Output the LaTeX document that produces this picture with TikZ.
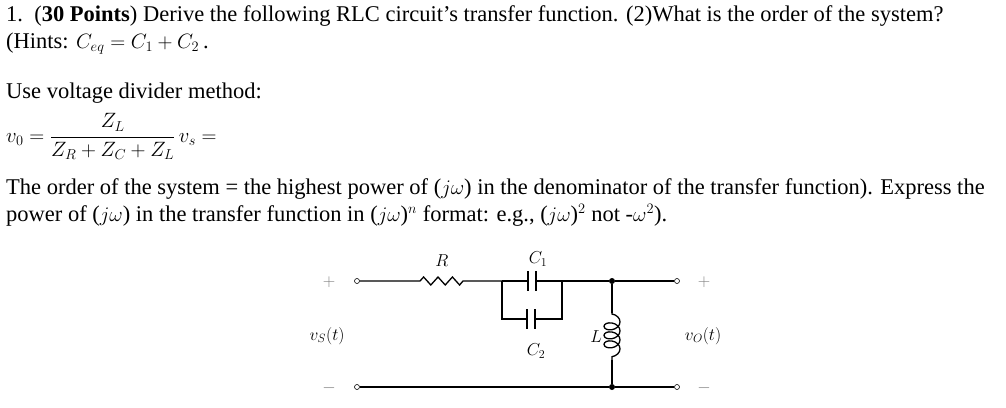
\documentclass[tikz,border=0pt]{standalone}
\usepackage{fontspec}
\setmainfont{Liberation Serif}
\usetikzlibrary{decorations.pathmorphing}
\begin{document}
\begin{tikzpicture}[x=1pt,y=-1pt,
  txt/.style={anchor=base west,inner sep=0pt,font=\fontsize{22.5}{25}\selectfont},
  wire/.style={line width=1.3pt},
  term/.style={circle,draw,fill=white,inner sep=0pt,minimum size=5pt,line width=0.6pt},
  dot/.style={circle,fill,inner sep=0pt,minimum size=6pt},
  lbl/.style={inner sep=0pt,font=\fontsize{18}{20}\selectfont},
  sgn/.style={inner sep=0pt,font=\fontsize{18}{20}\selectfont,text=gray}]
\useasboundingbox (0,0) rectangle (1006,407);
\node[txt] (l1) at (6,21) {1.\ \ (\textbf{30 Points}) Derive the following RLC circuit’s transfer function. (2)What is the order of the system?};
\node[txt] (l2) at (6,48) {(Hints: $C_{eq}=C_1+C_2$\,.};
\node[txt] (l3) at (6,98) {Use voltage divider method:};
\node[txt] (l4) at (6,142) {$\displaystyle v_0=\frac{Z_L}{Z_R+Z_C+Z_L}\,v_s=$};
\node[txt] (l5) at (6,194) {The order of the system = the highest power of ($j\omega$) in the denominator of the transfer function). Express the};
\node[txt] (l6) at (6,221) {power of ($j\omega$) in the transfer function in ($j\omega$)$^n$ format: e.g., ($j\omega$)$^2$ not -$\omega^2$).};
% circuit
\node[term] (a) at (357,281) {};
\node[term] (b) at (357,387) {};
\node[term] (c) at (677,281) {};
\node[term] (d) at (677,387) {};
\node[dot] (n1) at (612,281) {};
\node[dot] (n2) at (612,387) {};
\coordinate (r1) at (420,281);
\coordinate (r2) at (463,281);
\coordinate (p1) at (502,281);
\coordinate (p2) at (562,281);
\coordinate (q1) at (502,319);
\coordinate (q2) at (562,319);
\coordinate (k1) at (612,313);
\coordinate (k2) at (612,360);
\draw[wire] (a) -- (r1) -- ++(3.6,-4) -- ++(7.2,8) -- ++(7.2,-8) -- ++(7.2,8) -- ++(7.2,-8) -- ++(7.2,8) -- (r2) -- (p1);
\draw[wire] (p1) -- (528,281) (536,281) -- (p2) -- (n1) -- (c);
\draw[wire] (528,271) -- (528,291) (536,271) -- (536,291);
\draw[wire] (p1) -- (q1) -- (527,319) (535,319) -- (q2) -- (p2);
\draw[wire] (527,309) -- (527,329) (535,309) -- (535,329);
\draw[wire] (n1) -- (k1);
\draw[wire,decorate,decoration={coil,segment length=9pt,amplitude=8pt,aspect=0.7,pre length=1pt,post length=1pt}] (k1) -- (k2);
\draw[wire] (k2) -- (n2);
\draw[wire] (b) -- (n2) -- (d);
\node[lbl] (R) at (442,261) {$R$};
\node[lbl] (C1) at (538,259) {$C_1$};
\node[lbl] (C2) at (536,351) {$C_2$};
\node[lbl] (L) at (596,337) {$L$};
\node[lbl] (vs) at (327,336) {$v_S(t)$};
\node[lbl] (vo) at (703,336) {$v_O(t)$};
\node[sgn] (s1) at (329,282) {$+$};
\node[sgn] (s2) at (329,388) {$-$};
\node[sgn] (s3) at (704,282) {$+$};
\node[sgn] (s4) at (704,388) {$-$};
\end{tikzpicture}
\end{document}
